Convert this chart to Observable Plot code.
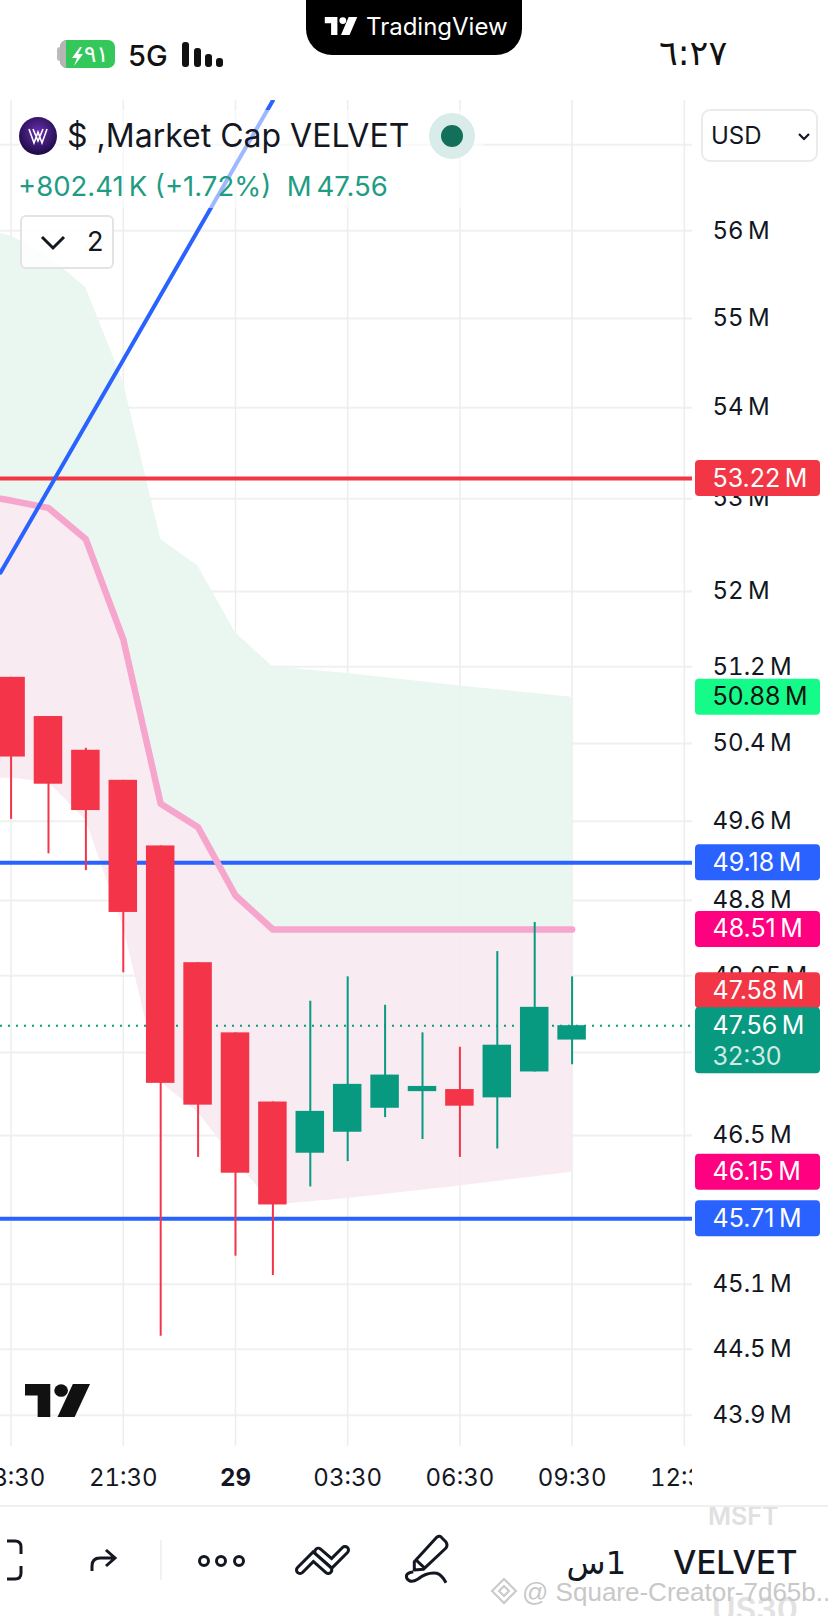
<!DOCTYPE html>
<html><head><meta charset="utf-8">
<script src="https://cdn.jsdelivr.net/npm/d3@7"></script>
<script src="https://cdn.jsdelivr.net/npm/@observablehq/plot@0.6"></script>
<style>
html,body{margin:0;padding:0;background:#fff;}
#wrap{position:relative;width:828px;height:1616px;overflow:hidden;font-family:Inter,sans-serif;color:#131722;}
#head{height:100px;}
#chart{height:1405px;}
#chart svg{display:block;}
.abs{position:absolute;white-space:nowrap;}
</style></head><body>
<div id="wrap">
<div id="head"></div>
<div id="chart"></div>

<!-- status bar -->
<div class="abs" style="left:306px;top:0;width:216px;height:55px;background:#000;border-radius:0 0 26px 26px;"></div>
<svg class="abs" style="left:324px;top:17px" width="34" height="18" viewBox="0 0 36 20"><path d="M0 0H14V20H7V7H0Z" fill="#fff"/><circle cx="20" cy="4" r="3.8" fill="#fff"/><path d="M26.5 0H36L27.5 20H18Z" fill="#fff"/></svg>
<div class="abs" style="left:366px;top:10px;font-size:24px;line-height:34px;color:#fff;">TradingView</div>
<div class="abs" style="left:57px;top:47px;width:4px;height:14px;background:#bbb;border-radius:3px 0 0 3px;"></div>
<div class="abs" style="left:60px;top:40px;width:55px;height:28px;background:#34c759;border-radius:7px;overflow:hidden;"><div style="width:6px;height:28px;background:#b5b5b5;"></div></div>
<svg class="abs" style="left:71px;top:47px" width="13" height="19"><path d="M9 0L1 11H6L3 19L12 7H7L11 0Z" fill="#fff"/></svg>
<div class="abs" dir="ltr" style="left:84px;top:38px;font:500 23px/32px 'DejaVu Sans';color:#fff;">٩١</div>
<div class="abs" style="left:128px;top:38px;font-size:29px;line-height:36px;font-weight:500;color:#111;">5G</div>
<svg class="abs" style="left:182px;top:42px" width="42" height="26"><rect x="0" y="0" width="7" height="25" rx="3" fill="#111"/><rect x="12" y="6" width="7" height="19" rx="3" fill="#111"/><rect x="23" y="12" width="7" height="13" rx="3" fill="#111"/><rect x="34" y="16" width="7" height="9" rx="3" fill="#111"/></svg>
<div class="abs" dir="rtl" style="left:659px;top:33px;font:35px/40px 'DejaVu Sans';color:#111;">٦:٢٧</div>

<!-- legend -->
<div class="abs" style="left:19px;top:110px;width:465px;height:98px;background:rgba(255,255,255,.55);"></div>
<svg class="abs" style="left:19px;top:117px" width="38" height="38" viewBox="0 0 38 38"><defs><radialGradient id="lg" cx=".5" cy=".4" r=".6"><stop offset="0" stop-color="#6a2fb0"/><stop offset="1" stop-color="#1b0a44"/></radialGradient></defs><circle cx="19" cy="19" r="19" fill="url(#lg)"/><path d="M10 12L15 26L19 15L23 26L28 12M14 12L19 24L24 12" fill="none" stroke="#fff" stroke-width="1.6"/></svg>
<div class="abs" style="left:67px;top:116px;font-size:32px;line-height:40px;color:#131722;">$ ,Market Cap VELVET</div>
<div class="abs" style="left:429px;top:113px;width:46px;height:46px;border-radius:50%;background:#d9ecea;"></div>
<div class="abs" style="left:441px;top:125px;width:22px;height:22px;border-radius:50%;background:#12705a;"></div>
<div class="abs" style="left:18px;top:168px;font-size:27.5px;line-height:36px;color:#1f9c83;">+802.41&#8201;K (+1.72%)&nbsp; M&#8201;47.56</div>
<div class="abs" style="left:20px;top:215px;width:94px;height:54px;box-sizing:border-box;background:rgba(255,255,255,.85);border:2px solid #e3e3e3;border-radius:6px;"></div>
<svg class="abs" style="left:39px;top:234px" width="28" height="18"><path d="M3 3L14 14L25 3" fill="none" stroke="#131722" stroke-width="3"/></svg>
<div class="abs" style="left:87px;top:225px;font-size:27px;line-height:34px;">2</div>
<div class="abs" style="left:701px;top:109px;width:117px;height:53px;box-sizing:border-box;background:#fff;border:2px solid #ebebeb;border-radius:9px;"></div>
<div class="abs" style="left:711px;top:119px;font-size:24px;line-height:34px;">USD</div>
<svg class="abs" style="left:797px;top:131px" width="14" height="12"><path d="M2 3L7 8L12 3" fill="none" stroke="#131722" stroke-width="2.2"/></svg>
<svg class="abs" style="left:25px;top:1384px" width="65" height="33" viewBox="0 0 36 20" preserveAspectRatio="none"><path d="M0 0H14V20H7V7H0Z" fill="#111"/><circle cx="20" cy="4" r="3.8" fill="#111"/><path d="M26.5 0H36L27.5 20H18Z" fill="#111"/></svg>

<!-- footer -->
<svg class="abs" style="left:0;top:1530px" width="470" height="60" fill="none" stroke="#131722" stroke-width="3">
<path d="M7 11H15Q21 11 21 17V24M21 36V43Q21 49 15 49H7" />
<path d="M92 41V36Q92 28 100 28H114M106 20L115 28L106 36" />
<path d="M161 10V50" stroke="#eee" stroke-width="1.5"/>
<circle cx="204" cy="31" r="4.5"/><circle cx="221" cy="31" r="4.5"/><circle cx="239" cy="31" r="4.5"/>
<g stroke-linecap="round" stroke-linejoin="miter"><path d="M318.3 21.7L331.7 33.3L345 20" stroke-width="10"/><path d="M318.3 21.7L331.7 33.3L345 20" stroke="#fff" stroke-width="4"/><path d="M300 40L313.3 26.7L328.3 40" stroke-width="10"/><path d="M300 40L313.3 26.7L328.3 40" stroke="#fff" stroke-width="4"/></g>
<path d="M414.3 40L414.3 31.7L436.7 7.3Q440 5 442 8L446 12Q448 15 446 18L423.3 39.3ZM416.7 30.7L425 38.3M413.3 41.7Q405 43 406.7 48Q410 54 418 49Q427 42 436.7 43.3Q442 45 446 52.7" stroke-linejoin="round"/>
</svg>
<div class="abs" dir="rtl" style="left:566px;top:1540px;width:60px;font:32px/46px 'DejaVu Sans';color:#131722;text-align:right;">1س</div>
<div class="abs" style="left:673px;top:1541px;font-size:33px;line-height:42px;font-weight:500;color:#131722;">VELVET</div>
<div class="abs" style="left:708px;top:1500px;font-size:25px;line-height:32px;font-weight:600;color:#e0e0e0;">MSFT</div>
<div class="abs" style="left:712px;top:1590px;font-size:32px;line-height:40px;font-weight:600;color:#e2e2e2;">US30</div>
<svg class="abs" style="left:490px;top:1577px" width="28" height="28" fill="none" stroke="#c9c9c9" stroke-width="2"><path d="M14 2L26 14L14 26L2 14ZM14 9L19 14L14 19L9 14Z"/></svg>
<div class="abs" style="left:522px;top:1574px;font:26px/36px 'Liberation Sans';color:#c8c8c8;">@ Square-Creator-7d65b...</div>
</div>

<script>
// candles: hours relative to the "29" tick (each candle = 1h)
const hours = [-6,-5,-4,-3,-2,-1,0,1,2,3,4,5,6,7,8,9];
const opens  = [51.09,50.68,50.33,50.02,49.35,48.18,47.49,46.82,46.33,46.53,46.76,46.92,46.94,46.86,47.11,47.42];
const highs  = [51.09,50.68,50.35,50.02,49.35,48.18,47.49,46.82,47.80,48.04,47.76,47.49,47.35,48.29,48.58,48.04];
const lows   = [49.62,49.27,49.10,48.08,44.62,46.29,45.36,45.18,46.01,46.25,46.67,46.46,46.29,46.37,47.11,47.18];
const closes = [50.26,49.98,49.71,48.68,47.00,46.79,46.14,45.84,46.73,46.99,47.08,46.97,46.78,47.37,47.74,47.56];

// bands
const bandHours = [-6.283,-6,-5,-4,-3,-2,-1,0,1,3,6,9];
const bandTop   = [55.97,55.94,55.71,55.35,54.29,52.56,52.27,51.56,51.20,51.13,51.00,50.88];
const bandMid   = [53.00,52.98,52.90,52.56,51.49,49.78,49.54,48.85,48.51,48.51,48.51,48.51];
const bandLow   = [50.04,50.04,50.00,49.61,48.54,47.01,46.72,46.26,45.84,45.90,46.02,46.15];

// trend line
const trendHours = [-6.283,1];
const trendValues = [52.20,57.52];

// axes
const priceTicks = [57,56,55,54,53,52,51.2,50.4,49.6,48.8,48.05,47.3,46.5,45.1,44.5,43.9];
const timeTicks = [-6,-3,3,6,9,12];
const timeLabels = ["18:30","21:30","03:30","06:30","09:30","12:30"];
const dayTick = [0];
const dayLabel = "29";

// price chips
const chipValues = [53.22,50.88,49.18,48.51,46.15,45.71];
const chipColors = ["#f23645","#14fb8a","#2962ff","#ff0080","#ff0080","#2962ff"];
const chipTextColors = ["#fff","#111","#fff","#fff","#fff","#fff"];
const levelValues = [53.22,49.18,45.71];
const levelColors = ["#f23645","#2962ff","#2962ff"];
const lastRedChip = 47.58, lastPrice = 47.56, countdown = "32:30";

const candles = hours.map((h,i)=>({h,o:opens[i],hi:highs[i],lo:lows[i],c:closes[i]}));
const band = bandHours.map((h,i)=>({h,top:bandTop[i],mid:bandMid[i],low:bandLow[i]}));
const trend = trendHours.map((h,i)=>({h,v:trendValues[i]}));
const chips = chipValues.map((v,i)=>({v,fill:chipColors[i],ink:chipTextColors[i]}));
const levels = levelValues.map((v,i)=>({v,c:levelColors[i]}));
const teal="#089981", red="#f43549";
const edge = 12.219, bottom = 43.62;
const fmt = d => d.toFixed(2)+"\u2009M";
const up = d => d.c>=d.o;

const chip = (data,extra={}) => [
  Plot.rect(data,{x1:()=>edge,x2:()=>edge,y1:"v",y2:"v",insetLeft:3,insetRight:-128,insetTop:-18,insetBottom:-18,rx:4,fill:"fill",...extra}),
  Plot.text(data,{x:()=>edge,y:"v",dx:20,text:d=>fmt(d.v),textAnchor:"start",fill:"ink",fontSize:25,dy:extra.dy||0})
];

const plot = Plot.plot({
  width:828,height:1405,marginLeft:0,marginRight:136,marginTop:0,marginBottom:59,
  style:{fontFamily:"Inter, sans-serif",color:"#131722",background:"#fff"},
  x:{domain:[-6.283,edge]},
  y:{type:"log",domain:[bottom,57.52]},
  color:{type:"identity"},
  marks:[
    Plot.gridY(priceTicks,{stroke:"#f0f0f0",strokeOpacity:1,strokeWidth:2}),
    Plot.gridX([...timeTicks,...dayTick],{stroke:"#ededed",strokeOpacity:1,strokeWidth:1.5}),
    Plot.areaY(band,{x:"h",y1:"mid",y2:"top",fill:"#e8f6f0",fillOpacity:.92}),
    Plot.areaY(band,{x:"h",y1:"low",y2:"mid",fill:"#f7e9f0",fillOpacity:.92}),
    Plot.ruleY([lastPrice],{stroke:teal,strokeWidth:2,strokeDasharray:"2 6"}),
    Plot.ruleY(levels,{y:"v",stroke:"c",strokeWidth:4}),
    Plot.line(band,{x:"h",y:"mid",stroke:"#f6a5cd",strokeWidth:6.5,curve:"linear",strokeLinecap:"round",strokeLinejoin:"round"}),
    Plot.line(trend,{x:"h",y:"v",stroke:"#2962ff",strokeWidth:4}),
    Plot.ruleX(candles,{x:"h",y1:"lo",y2:"hi",stroke:d=>up(d)?teal:red,strokeWidth:2}),
    Plot.rect(candles,{x1:"h",x2:"h",y1:"o",y2:"c",insetLeft:-14.25,insetRight:-14.25,fill:d=>up(d)?teal:red}),
    Plot.axisX(timeTicks,{anchor:"bottom",tickSize:0,tickPadding:22,fontSize:24,label:null,tickFormat:d=>timeLabels[timeTicks.indexOf(d)]}),
    Plot.axisX(dayTick,{anchor:"bottom",tickSize:0,tickPadding:22,fontSize:24,fontWeight:700,label:null,tickFormat:()=>dayLabel}),
    Plot.rect([bottom],{x1:()=>edge,x2:()=>edge,y1:d=>d,y2:d=>d,insetRight:-136,insetTop:0,insetBottom:-59,fill:"#fff"}),
    Plot.axisY(priceTicks.slice(1),{anchor:"right",tickSize:0,tickPadding:20,fontSize:24,label:null,tickFormat:d=>d+"\u2009M"}),
    ...chip(chips),
    ...chip([{v:lastRedChip,fill:"#f23645",ink:"#fff"}],{dy:-33}),
    Plot.rect([lastPrice],{x1:()=>edge,x2:()=>edge,y1:d=>d,y2:d=>d,insetLeft:3,insetRight:-128,insetTop:-18,insetBottom:-48,rx:4,fill:teal}),
    Plot.text([lastPrice],{x:()=>edge,y:d=>d,dx:20,text:fmt,textAnchor:"start",fill:"#fff",fontSize:25}),
    Plot.text([lastPrice],{x:()=>edge,y:d=>d,dx:20,dy:31,text:()=>countdown,textAnchor:"start",fill:"#cfeae4",fontSize:25})
  ]
});
document.getElementById("chart").append(plot);
</script>
<div style="position:absolute;left:0;top:1505px;width:828px;height:2px;background:#f0f0f0;"></div>
</body></html>
